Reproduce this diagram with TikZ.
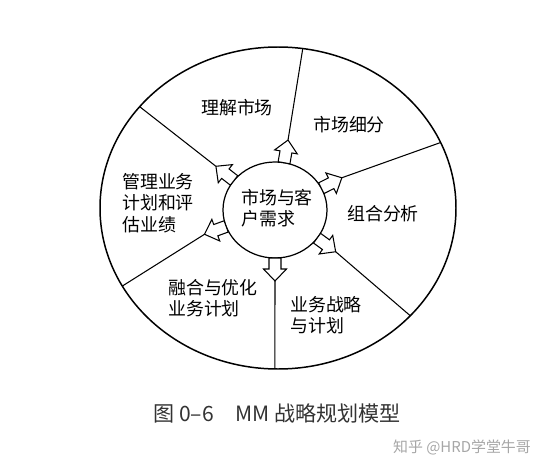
\documentclass[tikz,border=0pt]{standalone}
\usepackage{fontspec}
\setmainfont{Noto Sans CJK SC}
\usetikzlibrary{calc}

\begin{document}
\begin{tikzpicture}[x=0.02cm, y=0.02cm, line width=0.6pt,
	every node/.style={font=\fontsize{10.2}{12.3}\selectfont, align=left, inner sep=0pt},
	blockarrow/.style={draw, fill=white, line width=0.6pt, line join=miter}]
	\useasboundingbox (0,0) rectangle (555,-470);
	\coordinate (E) at (278,-208); % centre of wheel
	\coordinate (I) at (275,-210); % centre of hub
	
	% outer wheel
	\draw[line width=0.85pt, fill=white] (E) ellipse (178 and 161);
	
	% hub
	\draw[line width=0.7pt, fill=white] (I) ellipse (52 and 48);
	
	% spokes and arrows
	\foreach \a/\b [count=\i] in {80/82, 27/24, -36/-42, -90/-91, 200/209, 142/141}{
		\coordinate (o\i) at ($(E)+(\b:178 and 161)$);
		\coordinate (s\i) at ($(I)+(\a:52 and 48)$);
		\coordinate (t\i) at ($(s\i)+(\a:23)$);
		\draw (t\i) -- (o\i);
		\begin{scope}[shift={(s\i)}, rotate=\a]
			\draw[blockarrow] (0,-6) -- (11,-6) -- (11,-11.5) -- (23,0) -- (11,11.5) -- (11,6) -- (0,6) -- cycle;
		\end{scope}
	}
	
	% labels
	\node (hub) at (277,-208) {市场与客\\户需求};
	\node (understand) at (237,-108) {理解市场};
	\node (segment) at (349,-125) {市场细分};
	\node (portfolio) at (383,-214) {组合分析};
	\node (strategy) at (326,-315) {业务战略\\与计划};
	\node (integrate) at (213,-298) {融合与优化\\业务计划};
	\node (manage) at (158,-203) {管理业务\\计划和评\\估业绩};
	
	% caption
	\node[font=\fontsize{12}{14}\selectfont, text=black!80] (caption) at (277,-413) {图 0–6\quad MM 战略规划模型};
	\node[font=\fontsize{8.5}{10}\selectfont, text=black!35] (mark) at (462,-447) {知乎 @HRD学堂牛哥};
\end{tikzpicture}
\end{document}
